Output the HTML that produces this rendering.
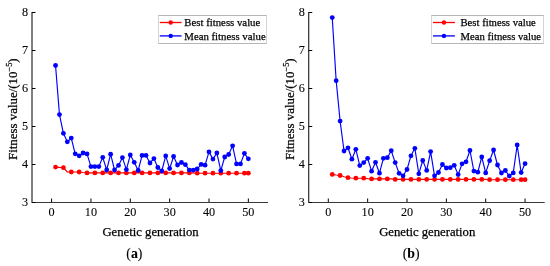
<!DOCTYPE html>
<html><head><meta charset="utf-8"><style>
html,body{margin:0;padding:0;background:#fff;}
body{width:550px;height:266px;overflow:hidden;}
svg{display:block;will-change:transform;}
text{font-family:"Liberation Serif",serif;fill:#000;stroke:#000;stroke-width:0.25px;}
.ax{stroke:#000;stroke-width:1;fill:none;}
.tk{stroke:#000;stroke-width:1;}
.tl{font-size:13.2px;stroke-width:0.1px;}
.at{font-size:12.7px;}
.lb{font-size:13.8px;stroke-width:0.1px;}
.lt{font-size:11.4px;}
.lg{fill:#fff;stroke:#a0a0a0;stroke-width:0.8;}
.bl{fill:none;stroke:#0000ff;stroke-width:1.15;stroke-linejoin:round;}
.rl{fill:none;stroke:#ff0000;stroke-width:1.15;stroke-linejoin:round;}
</style></head><body>
<svg width="550" height="266" viewBox="0 0 550 266">
<line x1="32.00" y1="12" x2="32.00" y2="202.5" class="ax"/>
<line x1="31.50" y1="202.5" x2="268.03" y2="202.5" class="ax" stroke-width="1.15" style="stroke:#383838"/>
<line x1="32.00" y1="202.5" x2="35.50" y2="202.5" class="tk"/>
<text x="28.00" y="206.2" class="tl" text-anchor="end" textLength="6.1" lengthAdjust="spacingAndGlyphs">3</text>
<line x1="32.00" y1="164.5" x2="35.50" y2="164.5" class="tk"/>
<text x="28.00" y="168.2" class="tl" text-anchor="end" textLength="6.1" lengthAdjust="spacingAndGlyphs">4</text>
<line x1="32.00" y1="126.5" x2="35.50" y2="126.5" class="tk"/>
<text x="28.00" y="130.2" class="tl" text-anchor="end" textLength="6.1" lengthAdjust="spacingAndGlyphs">5</text>
<line x1="32.00" y1="88.5" x2="35.50" y2="88.5" class="tk"/>
<text x="28.00" y="92.2" class="tl" text-anchor="end" textLength="6.1" lengthAdjust="spacingAndGlyphs">6</text>
<line x1="32.00" y1="50.5" x2="35.50" y2="50.5" class="tk"/>
<text x="28.00" y="54.2" class="tl" text-anchor="end" textLength="6.1" lengthAdjust="spacingAndGlyphs">7</text>
<line x1="32.00" y1="12.5" x2="35.50" y2="12.5" class="tk"/>
<text x="28.00" y="16.2" class="tl" text-anchor="end" textLength="6.1" lengthAdjust="spacingAndGlyphs">8</text>
<line x1="51.60" y1="202" x2="51.60" y2="198.5" class="tk"/>
<text x="51.60" y="216" class="tl" text-anchor="middle" textLength="6.10" lengthAdjust="spacingAndGlyphs">0</text>
<line x1="90.95" y1="202" x2="90.95" y2="198.5" class="tk"/>
<text x="90.95" y="216" class="tl" text-anchor="middle" textLength="12.20" lengthAdjust="spacingAndGlyphs">10</text>
<line x1="130.30" y1="202" x2="130.30" y2="198.5" class="tk"/>
<text x="130.30" y="216" class="tl" text-anchor="middle" textLength="12.20" lengthAdjust="spacingAndGlyphs">20</text>
<line x1="169.65" y1="202" x2="169.65" y2="198.5" class="tk"/>
<text x="169.65" y="216" class="tl" text-anchor="middle" textLength="12.20" lengthAdjust="spacingAndGlyphs">30</text>
<line x1="209.00" y1="202" x2="209.00" y2="198.5" class="tk"/>
<text x="209.00" y="216" class="tl" text-anchor="middle" textLength="12.20" lengthAdjust="spacingAndGlyphs">40</text>
<line x1="248.35" y1="202" x2="248.35" y2="198.5" class="tk"/>
<text x="248.35" y="216" class="tl" text-anchor="middle" textLength="12.20" lengthAdjust="spacingAndGlyphs">50</text>
<polyline points="55.54,167.1 59.47,167.4 63.41,167.7 67.34,172.0 71.28,172.0 75.21,172.0 79.15,172.0 83.08,172.5 87.02,172.9 90.95,172.9 94.89,172.9 98.82,172.9 102.75,172.9 106.69,172.9 110.62,172.9 114.56,172.9 118.50,172.9 122.43,172.9 126.37,172.9 130.30,172.9 134.24,172.9 138.17,172.9 142.10,172.9 146.04,172.9 149.97,172.9 153.91,172.9 157.84,172.9 161.78,172.9 165.72,172.9 169.65,172.9 173.59,172.9 177.52,172.9 181.45,172.9 185.39,172.9 189.32,172.9 193.26,172.9 197.19,173.2 201.13,173.2 205.06,173.2 209.00,173.2 212.94,173.2 216.87,173.2 220.81,173.2 224.74,173.2 228.67,173.2 232.61,173.2 236.54,173.2 240.48,173.2 244.41,173.2 248.35,173.2" class="rl"/>
<polyline points="55.54,65.5 59.47,114.6 63.41,133.3 67.34,141.8 71.28,138.1 75.21,153.8 79.15,155.8 83.08,153.0 87.02,153.9 90.95,166.6 94.89,166.6 98.82,166.6 102.75,157.3 106.69,170.0 110.62,154.2 114.56,170.0 118.50,165.4 122.43,157.6 126.37,169.6 130.30,155.0 134.24,162.3 138.17,170.5 142.10,155.4 146.04,155.4 149.97,163.0 153.91,158.6 157.84,167.5 161.78,171.0 165.72,155.9 169.65,168.6 173.59,156.5 177.52,165.0 181.45,162.5 185.39,164.7 189.32,170.1 193.26,170.1 197.19,169.0 201.13,164.4 205.06,165.2 209.00,151.9 212.94,159.1 216.87,153.0 220.81,170.6 224.74,157.0 228.67,154.5 232.61,145.8 236.54,163.9 240.48,163.9 244.41,153.3 248.35,158.8" class="bl"/>
<circle cx="55.54" cy="167.1" r="2.4" fill="#ff0000"/>
<circle cx="63.41" cy="167.7" r="2.4" fill="#ff0000"/>
<circle cx="71.28" cy="172.0" r="2.4" fill="#ff0000"/>
<circle cx="79.15" cy="172.0" r="2.4" fill="#ff0000"/>
<circle cx="87.02" cy="172.9" r="2.4" fill="#ff0000"/>
<circle cx="94.89" cy="172.9" r="2.4" fill="#ff0000"/>
<circle cx="102.75" cy="172.9" r="2.4" fill="#ff0000"/>
<circle cx="110.62" cy="172.9" r="2.4" fill="#ff0000"/>
<circle cx="118.50" cy="172.9" r="2.4" fill="#ff0000"/>
<circle cx="126.37" cy="172.9" r="2.4" fill="#ff0000"/>
<circle cx="134.24" cy="172.9" r="2.4" fill="#ff0000"/>
<circle cx="142.10" cy="172.9" r="2.4" fill="#ff0000"/>
<circle cx="149.97" cy="172.9" r="2.4" fill="#ff0000"/>
<circle cx="157.84" cy="172.9" r="2.4" fill="#ff0000"/>
<circle cx="165.72" cy="172.9" r="2.4" fill="#ff0000"/>
<circle cx="173.59" cy="172.9" r="2.4" fill="#ff0000"/>
<circle cx="181.45" cy="172.9" r="2.4" fill="#ff0000"/>
<circle cx="189.32" cy="172.9" r="2.4" fill="#ff0000"/>
<circle cx="197.19" cy="173.2" r="2.4" fill="#ff0000"/>
<circle cx="205.06" cy="173.2" r="2.4" fill="#ff0000"/>
<circle cx="212.94" cy="173.2" r="2.4" fill="#ff0000"/>
<circle cx="220.81" cy="173.2" r="2.4" fill="#ff0000"/>
<circle cx="228.67" cy="173.2" r="2.4" fill="#ff0000"/>
<circle cx="236.54" cy="173.2" r="2.4" fill="#ff0000"/>
<circle cx="244.41" cy="173.2" r="2.4" fill="#ff0000"/>
<circle cx="248.35" cy="173.2" r="2.4" fill="#ff0000"/>
<circle cx="55.54" cy="65.5" r="2.4" fill="#0000ff"/>
<circle cx="59.47" cy="114.6" r="2.4" fill="#0000ff"/>
<circle cx="63.41" cy="133.3" r="2.4" fill="#0000ff"/>
<circle cx="67.34" cy="141.8" r="2.4" fill="#0000ff"/>
<circle cx="71.28" cy="138.1" r="2.4" fill="#0000ff"/>
<circle cx="75.21" cy="153.8" r="2.4" fill="#0000ff"/>
<circle cx="79.15" cy="155.8" r="2.4" fill="#0000ff"/>
<circle cx="83.08" cy="153.0" r="2.4" fill="#0000ff"/>
<circle cx="87.02" cy="153.9" r="2.4" fill="#0000ff"/>
<circle cx="90.95" cy="166.6" r="2.4" fill="#0000ff"/>
<circle cx="94.89" cy="166.6" r="2.4" fill="#0000ff"/>
<circle cx="98.82" cy="166.6" r="2.4" fill="#0000ff"/>
<circle cx="102.75" cy="157.3" r="2.4" fill="#0000ff"/>
<circle cx="106.69" cy="170.0" r="2.4" fill="#0000ff"/>
<circle cx="110.62" cy="154.2" r="2.4" fill="#0000ff"/>
<circle cx="114.56" cy="170.0" r="2.4" fill="#0000ff"/>
<circle cx="118.50" cy="165.4" r="2.4" fill="#0000ff"/>
<circle cx="122.43" cy="157.6" r="2.4" fill="#0000ff"/>
<circle cx="126.37" cy="169.6" r="2.4" fill="#0000ff"/>
<circle cx="130.30" cy="155.0" r="2.4" fill="#0000ff"/>
<circle cx="134.24" cy="162.3" r="2.4" fill="#0000ff"/>
<circle cx="138.17" cy="170.5" r="2.4" fill="#0000ff"/>
<circle cx="142.10" cy="155.4" r="2.4" fill="#0000ff"/>
<circle cx="146.04" cy="155.4" r="2.4" fill="#0000ff"/>
<circle cx="149.97" cy="163.0" r="2.4" fill="#0000ff"/>
<circle cx="153.91" cy="158.6" r="2.4" fill="#0000ff"/>
<circle cx="157.84" cy="167.5" r="2.4" fill="#0000ff"/>
<circle cx="161.78" cy="171.0" r="2.4" fill="#0000ff"/>
<circle cx="165.72" cy="155.9" r="2.4" fill="#0000ff"/>
<circle cx="169.65" cy="168.6" r="2.4" fill="#0000ff"/>
<circle cx="173.59" cy="156.5" r="2.4" fill="#0000ff"/>
<circle cx="177.52" cy="165.0" r="2.4" fill="#0000ff"/>
<circle cx="181.45" cy="162.5" r="2.4" fill="#0000ff"/>
<circle cx="185.39" cy="164.7" r="2.4" fill="#0000ff"/>
<circle cx="189.32" cy="170.1" r="2.4" fill="#0000ff"/>
<circle cx="193.26" cy="170.1" r="2.4" fill="#0000ff"/>
<circle cx="197.19" cy="169.0" r="2.4" fill="#0000ff"/>
<circle cx="201.13" cy="164.4" r="2.4" fill="#0000ff"/>
<circle cx="205.06" cy="165.2" r="2.4" fill="#0000ff"/>
<circle cx="209.00" cy="151.9" r="2.4" fill="#0000ff"/>
<circle cx="212.94" cy="159.1" r="2.4" fill="#0000ff"/>
<circle cx="216.87" cy="153.0" r="2.4" fill="#0000ff"/>
<circle cx="220.81" cy="170.6" r="2.4" fill="#0000ff"/>
<circle cx="224.74" cy="157.0" r="2.4" fill="#0000ff"/>
<circle cx="228.67" cy="154.5" r="2.4" fill="#0000ff"/>
<circle cx="232.61" cy="145.8" r="2.4" fill="#0000ff"/>
<circle cx="236.54" cy="163.9" r="2.4" fill="#0000ff"/>
<circle cx="240.48" cy="163.9" r="2.4" fill="#0000ff"/>
<circle cx="244.41" cy="153.3" r="2.4" fill="#0000ff"/>
<circle cx="248.35" cy="158.8" r="2.4" fill="#0000ff"/>
<text x="150.51" y="236.0" class="at" text-anchor="middle">Genetic generation</text>
<text x="134.41" y="258.2" class="lb" text-anchor="middle">(<tspan style="font-weight:bold">a</tspan>)</text>
<text transform="translate(16.80,109.2) rotate(-90)" class="at" style="font-size:12.9px" text-anchor="middle">Fitness value/(10<tspan dy="-4.8" font-size="8.3">−5</tspan><tspan dy="4.8">)</tspan></text>
<rect x="158.5" y="15.5" width="108.0" height="28" fill="#fff"/>
<path d="M158.1 15.5H266.9M158.1 43.5H266.9" stroke="#a8a8a8" stroke-width="0.85" fill="none"/>
<path d="M158.5 15.5V43.5M266.5 15.5V43.5" stroke="#cfcfcf" stroke-width="0.9" fill="none"/>
<line x1="159.8" y1="22.5" x2="181.6" y2="22.5" stroke="#ff0000" stroke-width="1.3"/>
<circle cx="170.70" cy="22.5" r="2.2" fill="#ff0000"/>
<text x="184.3" y="26.4" class="lt" textLength="76.00" lengthAdjust="spacingAndGlyphs">Best fitness value</text>
<line x1="159.8" y1="35.9" x2="181.6" y2="35.9" stroke="#0000ff" stroke-width="1.3"/>
<circle cx="170.70" cy="35.9" r="2.2" fill="#0000ff"/>
<text x="184.3" y="39.7" class="lt" textLength="81.40" lengthAdjust="spacingAndGlyphs">Mean fitness value</text>
<line x1="308.75" y1="12" x2="308.75" y2="202.5" class="ax"/>
<line x1="308.25" y1="202.5" x2="544.73" y2="202.5" class="ax" stroke-width="1.15" style="stroke:#383838"/>
<line x1="308.75" y1="202.5" x2="312.25" y2="202.5" class="tk"/>
<text x="304.75" y="206.2" class="tl" text-anchor="end" textLength="6.1" lengthAdjust="spacingAndGlyphs">3</text>
<line x1="308.75" y1="164.5" x2="312.25" y2="164.5" class="tk"/>
<text x="304.75" y="168.2" class="tl" text-anchor="end" textLength="6.1" lengthAdjust="spacingAndGlyphs">4</text>
<line x1="308.75" y1="126.5" x2="312.25" y2="126.5" class="tk"/>
<text x="304.75" y="130.2" class="tl" text-anchor="end" textLength="6.1" lengthAdjust="spacingAndGlyphs">5</text>
<line x1="308.75" y1="88.5" x2="312.25" y2="88.5" class="tk"/>
<text x="304.75" y="92.2" class="tl" text-anchor="end" textLength="6.1" lengthAdjust="spacingAndGlyphs">6</text>
<line x1="308.75" y1="50.5" x2="312.25" y2="50.5" class="tk"/>
<text x="304.75" y="54.2" class="tl" text-anchor="end" textLength="6.1" lengthAdjust="spacingAndGlyphs">7</text>
<line x1="308.75" y1="12.5" x2="312.25" y2="12.5" class="tk"/>
<text x="304.75" y="16.2" class="tl" text-anchor="end" textLength="6.1" lengthAdjust="spacingAndGlyphs">8</text>
<line x1="328.30" y1="202" x2="328.30" y2="198.5" class="tk"/>
<text x="328.30" y="216" class="tl" text-anchor="middle" textLength="6.10" lengthAdjust="spacingAndGlyphs">0</text>
<line x1="367.65" y1="202" x2="367.65" y2="198.5" class="tk"/>
<text x="367.65" y="216" class="tl" text-anchor="middle" textLength="12.20" lengthAdjust="spacingAndGlyphs">10</text>
<line x1="407.00" y1="202" x2="407.00" y2="198.5" class="tk"/>
<text x="407.00" y="216" class="tl" text-anchor="middle" textLength="12.20" lengthAdjust="spacingAndGlyphs">20</text>
<line x1="446.35" y1="202" x2="446.35" y2="198.5" class="tk"/>
<text x="446.35" y="216" class="tl" text-anchor="middle" textLength="12.20" lengthAdjust="spacingAndGlyphs">30</text>
<line x1="485.70" y1="202" x2="485.70" y2="198.5" class="tk"/>
<text x="485.70" y="216" class="tl" text-anchor="middle" textLength="12.20" lengthAdjust="spacingAndGlyphs">40</text>
<line x1="525.05" y1="202" x2="525.05" y2="198.5" class="tk"/>
<text x="525.05" y="216" class="tl" text-anchor="middle" textLength="12.20" lengthAdjust="spacingAndGlyphs">50</text>
<polyline points="332.24,174.4 336.17,175.0 340.11,175.5 344.04,176.8 347.98,177.7 351.91,178.0 355.85,178.2 359.78,178.2 363.72,178.2 367.65,178.6 371.59,178.9 375.52,178.9 379.46,178.9 383.39,178.9 387.32,178.9 391.26,178.9 395.19,179.4 399.13,179.4 403.06,179.4 407.00,179.4 410.94,179.4 414.87,179.4 418.81,179.4 422.74,179.4 426.68,179.4 430.61,179.4 434.55,179.4 438.48,179.4 442.42,179.4 446.35,179.4 450.29,179.4 454.22,179.4 458.15,179.4 462.09,179.4 466.02,179.4 469.96,179.4 473.89,179.4 477.83,179.4 481.76,179.4 485.70,179.4 489.63,179.7 493.57,179.7 497.50,179.7 501.44,179.7 505.38,179.7 509.31,179.7 513.25,179.7 517.18,179.7 521.12,179.7 525.05,179.7" class="rl"/>
<polyline points="332.24,17.6 336.17,80.7 340.11,121.1 344.04,151.0 347.98,147.8 351.91,159.2 355.85,149.3 359.78,165.6 363.72,162.6 367.65,158.3 371.59,171.2 375.52,162.3 379.46,173.2 383.39,158.3 387.32,157.7 391.26,150.7 395.19,162.6 399.13,173.3 403.06,175.8 407.00,169.5 410.94,155.8 414.87,148.3 418.81,173.8 422.74,160.5 426.68,170.4 430.61,151.6 434.55,175.8 438.48,172.5 442.42,164.5 446.35,168.0 450.29,167.7 454.22,165.3 458.15,174.6 462.09,163.8 466.02,161.8 469.96,150.5 473.89,171.1 477.83,172.2 481.76,157.0 485.70,172.9 489.63,160.7 493.57,150.0 497.50,165.0 501.44,173.0 505.38,170.5 509.31,176.0 513.25,172.9 517.18,145.0 521.12,172.6 525.05,163.7" class="bl"/>
<circle cx="332.24" cy="174.4" r="2.4" fill="#ff0000"/>
<circle cx="340.11" cy="175.5" r="2.4" fill="#ff0000"/>
<circle cx="347.98" cy="177.7" r="2.4" fill="#ff0000"/>
<circle cx="355.85" cy="178.2" r="2.4" fill="#ff0000"/>
<circle cx="363.72" cy="178.2" r="2.4" fill="#ff0000"/>
<circle cx="371.59" cy="178.9" r="2.4" fill="#ff0000"/>
<circle cx="379.46" cy="178.9" r="2.4" fill="#ff0000"/>
<circle cx="387.32" cy="178.9" r="2.4" fill="#ff0000"/>
<circle cx="395.19" cy="179.4" r="2.4" fill="#ff0000"/>
<circle cx="403.06" cy="179.4" r="2.4" fill="#ff0000"/>
<circle cx="410.94" cy="179.4" r="2.4" fill="#ff0000"/>
<circle cx="418.81" cy="179.4" r="2.4" fill="#ff0000"/>
<circle cx="426.68" cy="179.4" r="2.4" fill="#ff0000"/>
<circle cx="434.55" cy="179.4" r="2.4" fill="#ff0000"/>
<circle cx="442.42" cy="179.4" r="2.4" fill="#ff0000"/>
<circle cx="450.29" cy="179.4" r="2.4" fill="#ff0000"/>
<circle cx="458.15" cy="179.4" r="2.4" fill="#ff0000"/>
<circle cx="466.02" cy="179.4" r="2.4" fill="#ff0000"/>
<circle cx="473.89" cy="179.4" r="2.4" fill="#ff0000"/>
<circle cx="481.76" cy="179.4" r="2.4" fill="#ff0000"/>
<circle cx="489.63" cy="179.7" r="2.4" fill="#ff0000"/>
<circle cx="497.50" cy="179.7" r="2.4" fill="#ff0000"/>
<circle cx="505.38" cy="179.7" r="2.4" fill="#ff0000"/>
<circle cx="513.25" cy="179.7" r="2.4" fill="#ff0000"/>
<circle cx="521.12" cy="179.7" r="2.4" fill="#ff0000"/>
<circle cx="525.05" cy="179.7" r="2.4" fill="#ff0000"/>
<circle cx="332.24" cy="17.6" r="2.4" fill="#0000ff"/>
<circle cx="336.17" cy="80.7" r="2.4" fill="#0000ff"/>
<circle cx="340.11" cy="121.1" r="2.4" fill="#0000ff"/>
<circle cx="344.04" cy="151.0" r="2.4" fill="#0000ff"/>
<circle cx="347.98" cy="147.8" r="2.4" fill="#0000ff"/>
<circle cx="351.91" cy="159.2" r="2.4" fill="#0000ff"/>
<circle cx="355.85" cy="149.3" r="2.4" fill="#0000ff"/>
<circle cx="359.78" cy="165.6" r="2.4" fill="#0000ff"/>
<circle cx="363.72" cy="162.6" r="2.4" fill="#0000ff"/>
<circle cx="367.65" cy="158.3" r="2.4" fill="#0000ff"/>
<circle cx="371.59" cy="171.2" r="2.4" fill="#0000ff"/>
<circle cx="375.52" cy="162.3" r="2.4" fill="#0000ff"/>
<circle cx="379.46" cy="173.2" r="2.4" fill="#0000ff"/>
<circle cx="383.39" cy="158.3" r="2.4" fill="#0000ff"/>
<circle cx="387.32" cy="157.7" r="2.4" fill="#0000ff"/>
<circle cx="391.26" cy="150.7" r="2.4" fill="#0000ff"/>
<circle cx="395.19" cy="162.6" r="2.4" fill="#0000ff"/>
<circle cx="399.13" cy="173.3" r="2.4" fill="#0000ff"/>
<circle cx="403.06" cy="175.8" r="2.4" fill="#0000ff"/>
<circle cx="407.00" cy="169.5" r="2.4" fill="#0000ff"/>
<circle cx="410.94" cy="155.8" r="2.4" fill="#0000ff"/>
<circle cx="414.87" cy="148.3" r="2.4" fill="#0000ff"/>
<circle cx="418.81" cy="173.8" r="2.4" fill="#0000ff"/>
<circle cx="422.74" cy="160.5" r="2.4" fill="#0000ff"/>
<circle cx="426.68" cy="170.4" r="2.4" fill="#0000ff"/>
<circle cx="430.61" cy="151.6" r="2.4" fill="#0000ff"/>
<circle cx="434.55" cy="175.8" r="2.4" fill="#0000ff"/>
<circle cx="438.48" cy="172.5" r="2.4" fill="#0000ff"/>
<circle cx="442.42" cy="164.5" r="2.4" fill="#0000ff"/>
<circle cx="446.35" cy="168.0" r="2.4" fill="#0000ff"/>
<circle cx="450.29" cy="167.7" r="2.4" fill="#0000ff"/>
<circle cx="454.22" cy="165.3" r="2.4" fill="#0000ff"/>
<circle cx="458.15" cy="174.6" r="2.4" fill="#0000ff"/>
<circle cx="462.09" cy="163.8" r="2.4" fill="#0000ff"/>
<circle cx="466.02" cy="161.8" r="2.4" fill="#0000ff"/>
<circle cx="469.96" cy="150.5" r="2.4" fill="#0000ff"/>
<circle cx="473.89" cy="171.1" r="2.4" fill="#0000ff"/>
<circle cx="477.83" cy="172.2" r="2.4" fill="#0000ff"/>
<circle cx="481.76" cy="157.0" r="2.4" fill="#0000ff"/>
<circle cx="485.70" cy="172.9" r="2.4" fill="#0000ff"/>
<circle cx="489.63" cy="160.7" r="2.4" fill="#0000ff"/>
<circle cx="493.57" cy="150.0" r="2.4" fill="#0000ff"/>
<circle cx="497.50" cy="165.0" r="2.4" fill="#0000ff"/>
<circle cx="501.44" cy="173.0" r="2.4" fill="#0000ff"/>
<circle cx="505.38" cy="170.5" r="2.4" fill="#0000ff"/>
<circle cx="509.31" cy="176.0" r="2.4" fill="#0000ff"/>
<circle cx="513.25" cy="172.9" r="2.4" fill="#0000ff"/>
<circle cx="517.18" cy="145.0" r="2.4" fill="#0000ff"/>
<circle cx="521.12" cy="172.6" r="2.4" fill="#0000ff"/>
<circle cx="525.05" cy="163.7" r="2.4" fill="#0000ff"/>
<text x="427.24" y="236.0" class="at" text-anchor="middle">Genetic generation</text>
<text x="411.14" y="258.2" class="lb" text-anchor="middle">(<tspan style="font-weight:bold">b</tspan>)</text>
<text transform="translate(293.50,109.2) rotate(-90)" class="at" style="font-size:12.9px" text-anchor="middle">Fitness value/(10<tspan dy="-4.8" font-size="8.3">−5</tspan><tspan dy="4.8">)</tspan></text>
<rect x="431.5" y="15.5" width="112.0" height="28" fill="#fff"/>
<path d="M431.1 15.5H543.9M431.1 43.5H543.9" stroke="#a8a8a8" stroke-width="0.85" fill="none"/>
<path d="M431.5 15.5V43.5M543.5 15.5V43.5" stroke="#cfcfcf" stroke-width="0.9" fill="none"/>
<line x1="433.0" y1="22.5" x2="454.9" y2="22.5" stroke="#ff0000" stroke-width="1.3"/>
<circle cx="443.95" cy="22.5" r="2.2" fill="#ff0000"/>
<text x="460.5" y="26.4" class="lt" textLength="75.24" lengthAdjust="spacingAndGlyphs">Best fitness value</text>
<line x1="433.0" y1="35.9" x2="454.9" y2="35.9" stroke="#0000ff" stroke-width="1.3"/>
<circle cx="443.95" cy="35.9" r="2.2" fill="#0000ff"/>
<text x="460.5" y="39.7" class="lt" textLength="80.59" lengthAdjust="spacingAndGlyphs">Mean fitness value</text>
</svg>
</body></html>
